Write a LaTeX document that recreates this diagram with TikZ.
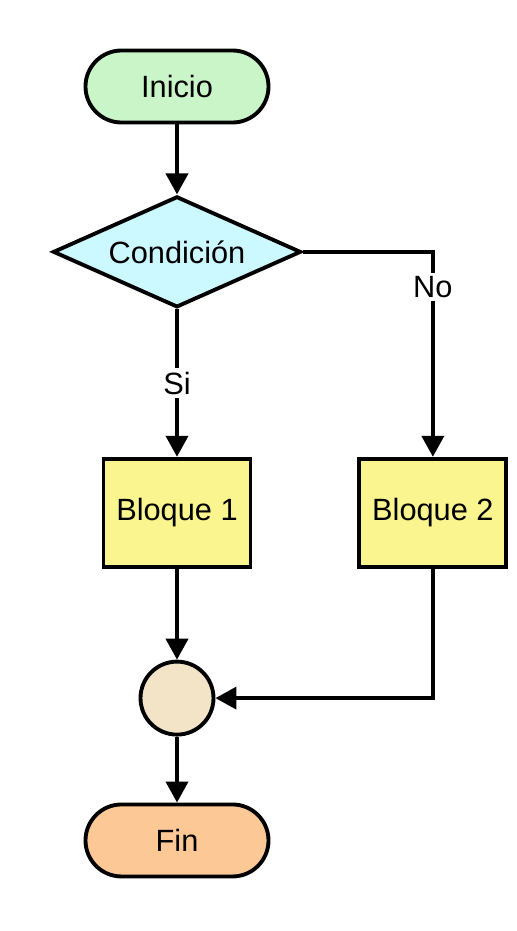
\documentclass[tikz,border=0pt]{standalone}
\usepackage{fontspec}
\setmainfont{Liberation Sans}
\usepackage{tikz}
\usetikzlibrary{arrows.meta,positioning,shapes.geometric}
\definecolor{clStart}{HTML}{C9F5C9}
\definecolor{clCond}{HTML}{CCF8FF}
\definecolor{clBlock}{HTML}{FAF58E}
\definecolor{clJoin}{HTML}{F3E3C7}
\definecolor{clEnd}{HTML}{FCC996}
\tikzset{
  base/.style={draw=black, line width=2.2pt, align=center, inner sep=0pt,
               font=\fontsize{17.5}{20}\selectfont},
  terminal/.style={base, rectangle, rounded corners=7.2mm,
                   minimum width=36.6mm, minimum height=14.4mm},
  decision/.style={base, diamond, aspect=2.25, fill=clCond,
                   minimum width=49.6mm, minimum height=22.2mm},
  block/.style={base, rectangle, fill=clBlock,
                minimum width=29.4mm, minimum height=21.6mm},
  junction/.style={base, circle, fill=clJoin, minimum size=14.6mm},
  flow/.style={-{Triangle[length=4.2mm, width=4.4mm]}, line width=2.2pt, draw=black},
  flowlabel/.style={font=\fontsize{17.5}{20}\selectfont, fill=white, inner sep=2pt},
}
\begin{document}
\begin{tikzpicture}
  \useasboundingbox (0,0) rectangle (10.32,-18.62);

  % main column
  \node[terminal, fill=clStart] (inicio) at (3.54,-1.73) {Inicio};
  \node[decision, below=14mm of inicio] (cond) {Condición};
  \node[block, below=29.5mm of cond] (bloque1) {Bloque 1};
  \node[junction, below=18.2mm of bloque1] (union) {};
  \node[terminal, fill=clEnd, below=13.2mm of union] (fin) {Fin};

  % right branch
  \node[block, right=21mm of bloque1] (bloque2) {Bloque 2};

  % connectors
  \draw[flow] (inicio) -- (cond);
  \draw[flow] (cond) -- node[flowlabel]{Si} (bloque1);
  \draw[flow] (cond.east) -| node[flowlabel, pos=0.586]{No} (bloque2.north);
  \draw[flow] (bloque1) -- (union);
  \draw[flow] (bloque2.south) |- (union.east);
  \draw[flow] (union) -- (fin);
\end{tikzpicture}
\end{document}
